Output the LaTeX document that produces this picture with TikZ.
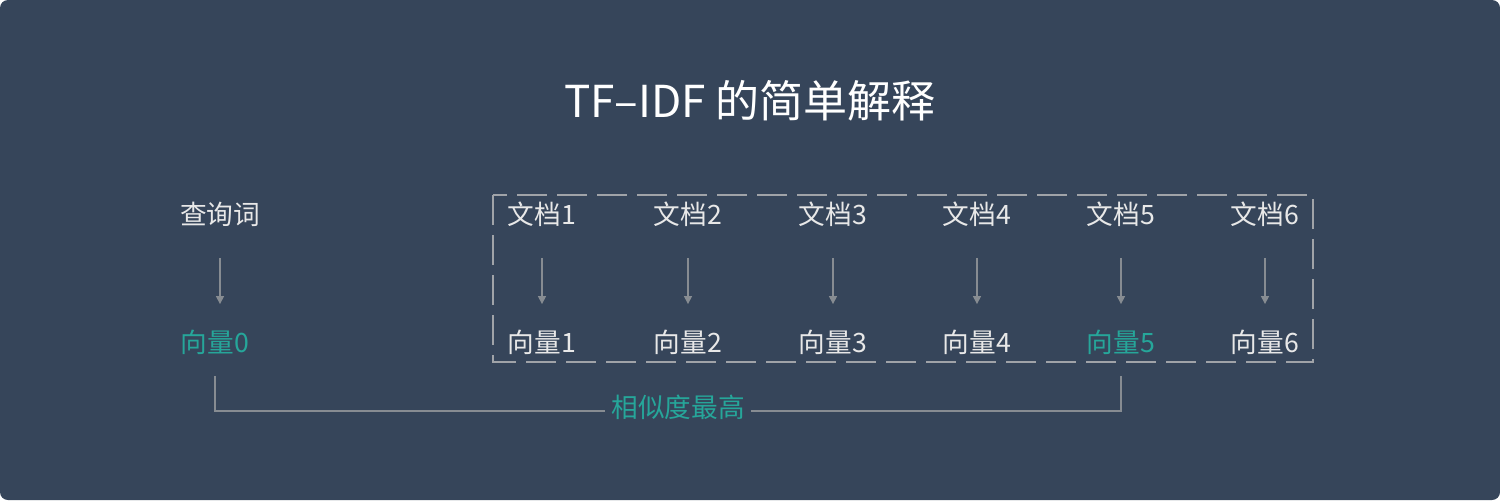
\documentclass[tikz,border=0pt]{standalone}
\usepackage{fontspec}
\setmainfont{Noto Sans CJK SC}
\usetikzlibrary{arrows.meta}
\definecolor{bg}{RGB}{54,69,90}
\definecolor{txt}{RGB}{232,232,232}
\definecolor{teal}{RGB}{38,166,154}
\definecolor{arrowgray}{RGB}{135,140,146}
\definecolor{boxgray}{RGB}{160,163,168}
\tikzset{
  lbl/.style={inner sep=0pt, text height=0.88em, text depth=0.12em, font=\fontsize{20pt}{24pt}\selectfont, text=txt},
  hl/.style={text=teal},
  arr/.style={draw=arrowgray, line width=1.1pt, -{Triangle[width=6pt,length=6pt]}, shorten <=24pt, shorten >=27pt},
  link/.style={draw=arrowgray, line width=1.1pt},
  groupbox/.style={draw=boxgray, line width=0.8pt, dash pattern=on 22.5pt off 7.5pt},
}
\begin{document}
\begin{tikzpicture}[x=0.75pt,y=-0.75pt]
\useasboundingbox (0,0) rectangle (1500,500);
\fill[white] (0,0) rectangle (1500,500);
\fill[bg, rounded corners=6pt] (0,0) rectangle (1500,500);
\node[text=white, font=\fontsize{33pt}{38pt}\selectfont, inner sep=0pt] (title) at (750,101) {TF–IDF 的简单解释};
\draw[groupbox] (493,195) rectangle (1313,362);
\node[lbl] (q) at (220,219) {查询词};
\node[lbl,hl] (v0) at (215,347) {向量0};
\foreach \i/\x in {1/542,2/688,3/833,4/977,5/1121,6/1265}{
  \node[lbl] (d\i) at (\x,219) {文档\i};
}
\foreach \i/\x in {1/542,2/688,3/833,4/977,6/1265}{
  \node[lbl] (v\i) at (\x,347) {向量\i};
}
\node[lbl,hl] (v5) at (1121,347) {向量5};
\draw[arr] (q.south) -- (q.south |- v0.north);
\foreach \i in {1,...,6}{
  \draw[arr] (d\i.south) -- (v\i.north);
}
\node[lbl,hl] (sim) at (678,412) {相似度最高};
\draw[link] ([yshift=-16.5pt]v0.south) |- ([xshift=-4.5pt,yshift=0.75pt]sim.west);
\draw[link] ([yshift=-16.5pt]v5.south) |- ([xshift=4.5pt,yshift=0.75pt]sim.east);
\end{tikzpicture}
\end{document}
